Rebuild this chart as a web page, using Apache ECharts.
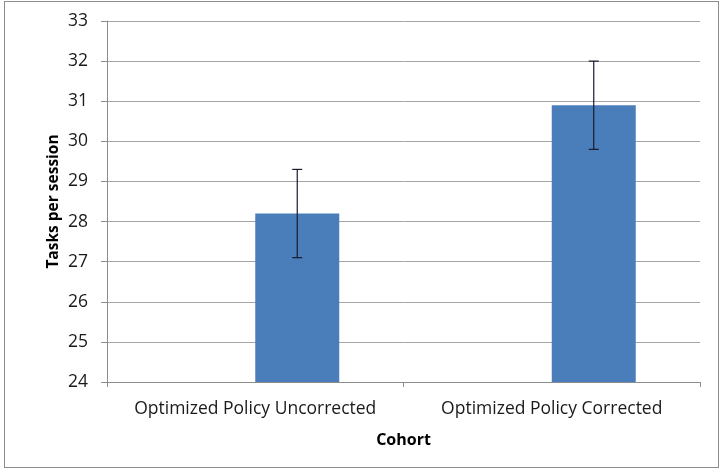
<!DOCTYPE html>
<html>
<head>
<meta charset="utf-8">
<script src="https://cdn.jsdelivr.net/npm/echarts@6/dist/echarts.min.js"></script>
<style>
html,body{margin:0;padding:0;background:#fff;}
#frame{position:absolute;left:4px;top:1px;width:715px;height:467px;border:1px solid #8c8c8c;box-sizing:border-box;}
#chart{position:absolute;left:0;top:0;width:724px;height:474px;}
</style>
</head>
<body>
<div id="frame"></div>
<div id="chart"></div>
<script>
const categories = ["Optimized Policy Uncorrected", "Optimized Policy Corrected"];
const values = [28.2, 30.9];
const errLow = [27.1, 29.8];
const errHigh = [29.3, 32.0];
const yTicks = [24, 25, 26, 27, 28, 29, 30, 31, 32, 33];

const BAR_W = 84;
const FONT = "'Open Sans', 'Noto Sans', sans-serif";

const chart = echarts.init(document.getElementById('chart'));
chart.setOption({
  animation: false,
  backgroundColor: 'transparent',
  grid: { left: 107, right: 24, top: 21, bottom: 92 },
  xAxis: {
    type: 'category',
    data: categories,
    name: 'Cohort',
    nameLocation: 'middle',
    nameGap: 50,
    nameMoveOverlap: false,
    nameTextStyle: { fontFamily: FONT, fontWeight: 'bold', fontSize: 16, color: '#000' },
    axisLine: { lineStyle: { color: '#8c8c8c', width: 1 } },
    axisTick: { show: true, length: 5, lineStyle: { color: '#8c8c8c' } },
    axisLabel: { fontFamily: FONT, fontSize: 17.5, color: '#1a1a1a', margin: 18, interval: 0 }
  },
  yAxis: {
    type: 'value',
    min: yTicks[0],
    max: yTicks[yTicks.length - 1],
    interval: 1,
    name: 'Tasks per session',
    nameLocation: 'middle',
    nameGap: 45,
    nameMoveOverlap: false,
    nameTextStyle: { fontFamily: FONT, fontWeight: 'bold', fontSize: 15.5, color: '#000' },
    axisLine: { show: true, lineStyle: { color: '#8c8c8c', width: 1 } },
    axisTick: { show: true, length: 6, lineStyle: { color: '#8c8c8c' } },
    axisLabel: { fontFamily: FONT, fontSize: 17.5, color: '#1a1a1a', margin: 19 },
    splitLine: { show: true, lineStyle: { color: '#a6a6a6', width: 1 } }
  },
  series: [
    {
      type: 'bar',
      data: categories.map(() => null),
      barWidth: BAR_W,
      barGap: '0%'
    },
    {
      type: 'bar',
      data: values,
      barWidth: BAR_W,
      barGap: '0%',
      itemStyle: { color: '#4a7ebb' }
    },
    {
      type: 'custom',
      data: categories.map((c, i) => [i, errLow[i], errHigh[i]]),
      z: 10,
      renderItem: function (params, api) {
        const lo = api.coord([api.value(0), api.value(1)]);
        const hi = api.coord([api.value(0), api.value(2)]);
        const x = lo[0] + BAR_W / 2;
        const cap = 5;
        const style = { stroke: '#1a1a2e', lineWidth: 1.2 };
        return {
          type: 'group',
          children: [
            { type: 'line', shape: { x1: x, y1: hi[1], x2: x, y2: lo[1] }, style: style },
            { type: 'line', shape: { x1: x - cap, y1: hi[1], x2: x + cap, y2: hi[1] }, style: style },
            { type: 'line', shape: { x1: x - cap, y1: lo[1], x2: x + cap, y2: lo[1] }, style: style }
          ]
        };
      }
    }
  ]
});
</script>
</body>
</html>
